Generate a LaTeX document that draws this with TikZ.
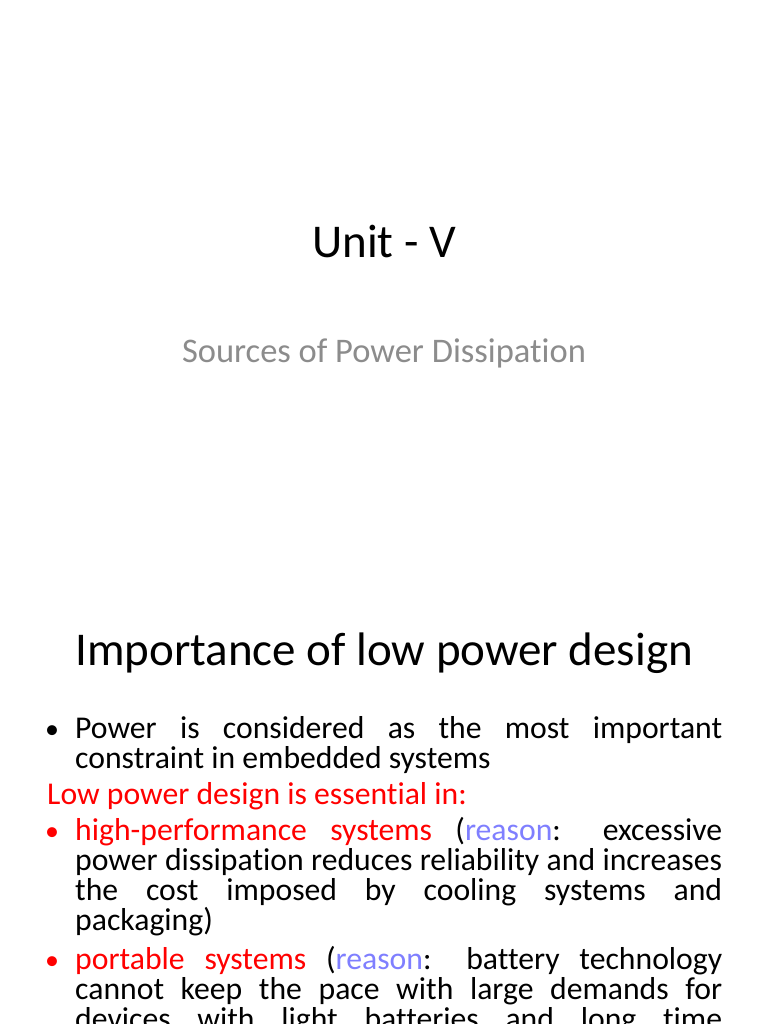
\documentclass[tikz,border=0pt]{standalone}
\usepackage{fontspec}
\setmainfont[Ligatures={NoCommon,TeX}]{Carlito}
\definecolor{rsn}{HTML}{7F7FFF}
\definecolor{sub}{HTML}{8C8C8C}
\begin{document}
\begin{tikzpicture}[x=1pt,y=1pt,
  body/.style={anchor=base west,inner sep=0pt,font=\fontsize{31.7}{34}\selectfont},
  bul/.style={anchor=base west,inner sep=0pt,font=\fontsize{28}{30}\selectfont}]
\useasboundingbox[fill=white] (0,0) rectangle (768,-1024);
\newcommand\jl[1]{\makebox[647pt][s]{#1}}
\node[anchor=base,inner sep=0pt,font=\fontsize{47}{55}\selectfont] (t1) at (384,-258) {Unit - V};
\node[anchor=base,inner sep=0pt,font=\fontsize{34.5}{38}\selectfont,text=sub] (t2) at (384,-362) {Sources of Power Dissipation};
\node[anchor=base west,inner sep=0pt,font=\fontsize{47}{55}\selectfont] (t3) at (75,-665) {Importance of low power design};
\node[bul] (b1) at (45,-738) {•};
\node[body] (l1) at (75,-738) {\jl{Power is considered as the most important}};
\node[body] (l2) at (75,-768) {constraint in embedded systems};
\node[body,text=red] (l3) at (47,-804) {Low power design is essential in:};
\node[bul,text=red] (b2) at (45,-840) {•};
\node[body] (l4) at (75,-840) {\jl{\textcolor{red}{high-performance} \textcolor{red}{systems} (\textcolor{rsn}{reason}: excessive}};
\node[body] (l5) at (75,-870) {\jl{power dissipation reduces reliability and increases}};
\node[body] (l6) at (75,-900) {\jl{the cost imposed by cooling systems and}};
\node[body] (l7) at (75,-930) {packaging)};
\node[bul,text=red] (b3) at (45,-969) {•};
\node[body] (l8) at (75,-969) {\jl{\textcolor{red}{portable} \textcolor{red}{systems} (\textcolor{rsn}{reason}: battery technology}};
\node[body] (l9) at (75,-999) {\jl{cannot keep the pace with large demands for}};
\node[body] (l10) at (75,-1029) {\jl{devices with light batteries and long time}};
\end{tikzpicture}
\end{document}
